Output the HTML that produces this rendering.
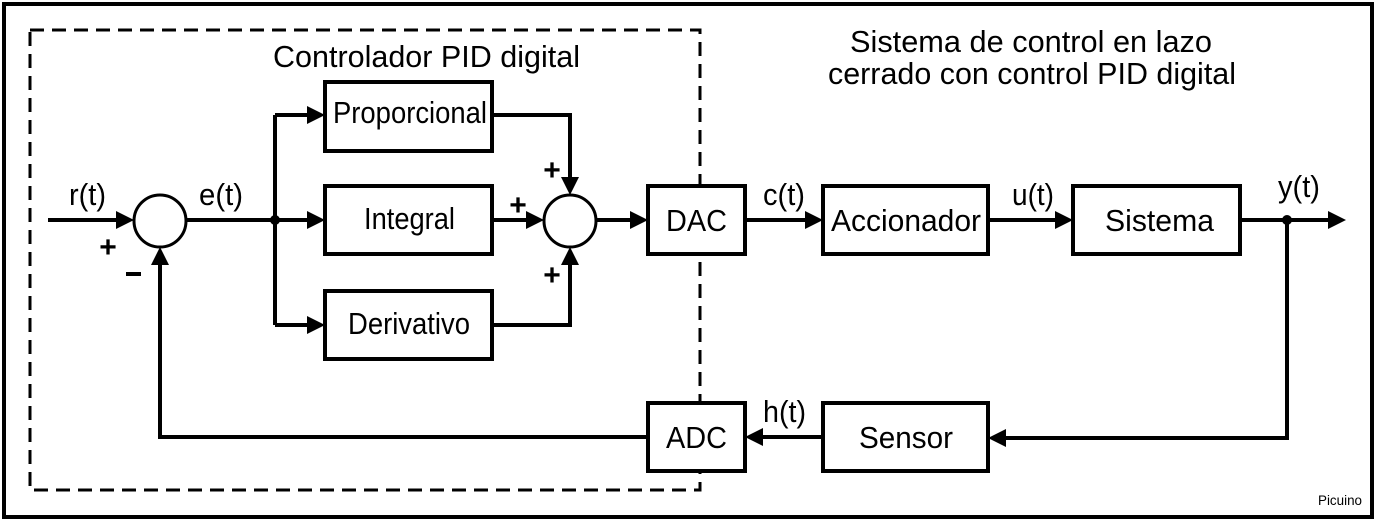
<!DOCTYPE html>
<html><head><style>
html,body{margin:0;padding:0;background:#fff;}
svg{display:block;}
text{font-family:"Liberation Sans",Arial,sans-serif;fill:#000;}
</style></head><body>
<svg width="1376" height="522" viewBox="0 0 1376 522" xmlns="http://www.w3.org/2000/svg">
<rect x="4" y="4" width="1368" height="513" fill="none" stroke="#000" stroke-width="4"/>
<rect x="30" y="30" width="670" height="460" fill="none" stroke="#000" stroke-width="3" stroke-dasharray="14,8"/>
<g fill="#fff" stroke="#000" stroke-width="4">
<rect x="325" y="82" width="167" height="69"/>
<rect x="325" y="186" width="167" height="68"/>
<rect x="325" y="291" width="167" height="68"/>
<rect x="648" y="186" width="97" height="68"/>
<rect x="648" y="403" width="97" height="68"/>
<rect x="823" y="186" width="165" height="68"/>
<rect x="1073" y="186" width="167" height="68"/>
<rect x="823" y="403" width="165" height="68"/>
</g>
<g fill="none" stroke="#000" stroke-width="3">
<circle cx="160" cy="221" r="26"/>
<circle cx="570" cy="221" r="26"/>
</g>
<g fill="none" stroke="#000" stroke-width="4">
<line x1="48" y1="220" x2="120" y2="220"/>
<line x1="186" y1="220" x2="275" y2="220"/>
<polyline points="275,115 275,325"/>
<line x1="275" y1="115" x2="310" y2="115"/>
<line x1="275" y1="220" x2="310" y2="220"/>
<line x1="275" y1="325" x2="310" y2="325"/>
<polyline points="492,115 570,115 570,180"/>
<line x1="492" y1="220" x2="530" y2="220"/>
<polyline points="492,325 570,325 570,262"/>
<line x1="596" y1="220" x2="634" y2="220"/>
<line x1="745" y1="220" x2="809" y2="220"/>
<line x1="988" y1="220" x2="1059" y2="220"/>
<line x1="1240" y1="220" x2="1332" y2="220"/>
<polyline points="1287,220 1287,438 1002,438"/>
<line x1="823" y1="437" x2="759" y2="437"/>
<polyline points="648,437 160,437 160,262"/>
</g>
<g fill="#000">
<polygon points="116,211 134,220 116,229"/>
<polygon points="307,106 325,115 307,124"/>
<polygon points="307,211 325,220 307,229"/>
<polygon points="307,316 325,325 307,334"/>
<polygon points="526,211 544,220 526,229"/>
<polygon points="630,211 648,220 630,229"/>
<polygon points="805,211 823,220 805,229"/>
<polygon points="1055,211 1073,220 1055,229"/>
<polygon points="1328,211 1346,220 1328,229"/>
<polygon points="561,177 570,195 579,177"/>
<polygon points="561,265 570,247 579,265"/>
<polygon points="151,265 160,247 169,265"/>
<polygon points="1006,429 988,438 1006,447"/>
<polygon points="763,428 745,437 763,446"/>
<circle cx="275" cy="220" r="5"/>
<circle cx="1287" cy="220" r="5"/>
</g>
<g font-size="31">
<text x="333" y="123" textLength="154" lengthAdjust="spacingAndGlyphs">Proporcional</text>
<text x="364" y="229" textLength="91" lengthAdjust="spacingAndGlyphs">Integral</text>
<text x="348" y="334" textLength="122" lengthAdjust="spacingAndGlyphs">Derivativo</text>
<text x="666" y="231" textLength="61" lengthAdjust="spacingAndGlyphs">DAC</text>
<text x="666" y="448" textLength="61" lengthAdjust="spacingAndGlyphs">ADC</text>
<text x="831" y="231" textLength="150" lengthAdjust="spacingAndGlyphs">Accionador</text>
<text x="1105" y="231" textLength="109" lengthAdjust="spacingAndGlyphs">Sistema</text>
<text x="859" y="448" textLength="94" lengthAdjust="spacingAndGlyphs">Sensor</text>
<text x="69" y="205" textLength="37" lengthAdjust="spacingAndGlyphs">r(t)</text>
<text x="199" y="205" textLength="44" lengthAdjust="spacingAndGlyphs">e(t)</text>
<text x="763" y="205" textLength="42" lengthAdjust="spacingAndGlyphs">c(t)</text>
<text x="1012" y="205" textLength="42" lengthAdjust="spacingAndGlyphs">u(t)</text>
<text x="1278" y="197" textLength="42" lengthAdjust="spacingAndGlyphs">y(t)</text>
<text x="763" y="422" textLength="43" lengthAdjust="spacingAndGlyphs">h(t)</text>
<text x="273" y="67" textLength="307" lengthAdjust="spacingAndGlyphs">Controlador PID digital</text>
<text x="850" y="52" textLength="362" lengthAdjust="spacingAndGlyphs">Sistema de control en lazo</text>
<text x="828" y="84" textLength="408" lengthAdjust="spacingAndGlyphs">cerrado con control PID digital</text>
</g>
<g font-size="30" font-weight="bold" text-anchor="middle">
<text x="108" y="257">+</text>
<text x="552" y="180">+</text>
<text x="518" y="215">+</text>
<text x="552" y="285">+</text>
</g>
<rect x="126" y="272" width="15" height="4" fill="#000"/>
<text x="1340" y="505" font-size="14" textLength="44" lengthAdjust="spacingAndGlyphs" text-anchor="middle">Picuino</text>
</svg>
</body></html>
